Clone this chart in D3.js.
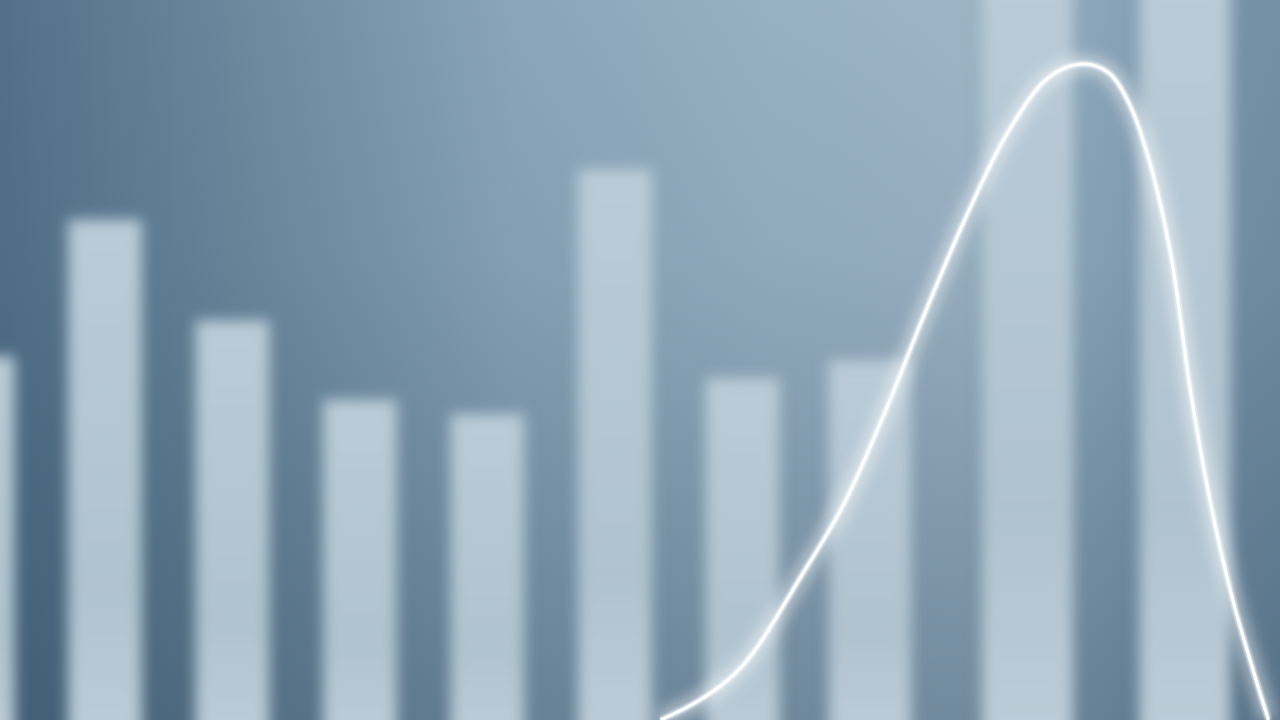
<!DOCTYPE html>
<html><head><meta charset="utf-8">
<script src="https://cdn.jsdelivr.net/npm/d3@7"></script>
<style>html,body{margin:0;padding:0;overflow:hidden;background:#7f9bb0}svg{display:block}</style>
</head><body>
<svg id="c" width="1280" height="720"></svg>
<script>
// Bar categories and heights (chart units, 0–100 spans the frame height)
const categories = ["A","B","C","D","E","F","G","H","I","J"];
const barValues  = [50.5, 69.5, 55.5, 44.5, 42.5, 76.5, 47.5, 50, 106, 106];
// Bell curve samples (x, y) in chart units
const curveX = [51.6, 54.7, 58.0, 62.7, 65.9, 69.1, 72.3, 75.5, 78.7, 81.9, 84.5, 86.6, 88.3, 89.8, 91.5, 93.0, 94.6, 96.25, 97.8, 99.1];
const curveY = [0, 2.8, 7.5, 20.3, 29.9, 42.6, 56.7, 70.0, 81.5, 89.2, 91.1, 89.9, 85.3, 77.6, 64.3, 45.8, 29.9, 17.1, 7.5, 0];

const W = 1280, H = 720;
const svg = d3.select("#c");
const defs = svg.append("defs");

const bg = defs.append("linearGradient").attr("id","bg").attr("x1",0).attr("x2",1).attr("y1",0).attr("y2",0);
[[0,"#52708a"],[0.18,"#6a879c"],[0.4,"#8aa5b8"],[0.6,"#97b0c2"],[0.75,"#9cb4c5"],[0.86,"#8aa4b8"],[0.96,"#7893a8"],[1,"#7390a5"]]
  .forEach(([o,c])=>bg.append("stop").attr("offset",o).attr("stop-color",c));
const shade = defs.append("linearGradient").attr("id","shade").attr("x1",0).attr("x2",0).attr("y1",0).attr("y2",1);
[[0,"#20384e",0],[0.35,"#20384e",0.06],[1,"#20384e",0.34]]
  .forEach(([o,c,a])=>shade.append("stop").attr("offset",o).attr("stop-color",c).attr("stop-opacity",a));
const barGrad = defs.append("linearGradient").attr("id","barg").attr("x1",0).attr("x2",0).attr("y1",0).attr("y2",1);
[[0,"#b9cbd7"],[0.7,"#afc3cf"],[1,"#bccdd8"]]
  .forEach(([o,c])=>barGrad.append("stop").attr("offset",o).attr("stop-color",c));

defs.append("filter").attr("id","blur").attr("x","-20%").attr("y","-20%").attr("width","140%").attr("height","140%")
  .append("feGaussianBlur").attr("stdDeviation",7);
defs.append("filter").attr("id","glow").attr("x","-20%").attr("y","-20%").attr("width","140%").attr("height","140%")
  .append("feGaussianBlur").attr("stdDeviation",7);
defs.append("filter").attr("id","soft").append("feGaussianBlur").attr("stdDeviation",1.2);

svg.append("rect").attr("width",W).attr("height",H).attr("fill","url(#bg)");
svg.append("rect").attr("width",W).attr("height",H).attr("fill","url(#shade)");

const y = d3.scaleLinear().domain([0,100]).range([H,0]);
const xIdx = d3.scaleLinear().domain([0,1,7,9]).range([-22,105,870,1185]);
const stepAt = i => (xIdx(i+0.5) - xIdx(i-0.5));
const xc = d3.scaleLinear().domain([0,100]).range([0,W]);

const bars = svg.append("g").attr("filter","url(#blur)");
bars.selectAll("rect").data(barValues).join("rect")
  .attr("x",(d,i)=>xIdx(i) - stepAt(i)*0.29)
  .attr("width",(d,i)=>stepAt(i)*0.58)
  .attr("y",d=>y(d))
  .attr("height",d=>H - y(d) + 30)
  .attr("fill","url(#barg)");

const pts = curveX.map((v,i)=>[xc(v), y(curveY[i])]);
const line = d3.line().curve(d3.curveCatmullRom.alpha(0.5));
svg.append("path").attr("d",line(pts)).attr("fill","none")
  .attr("stroke","#ffffff").attr("stroke-width",18).attr("stroke-opacity",0.45).attr("filter","url(#glow)");
svg.append("path").attr("d",line(pts)).attr("fill","none")
  .attr("stroke","#f4f9fc").attr("stroke-width",6).attr("stroke-opacity",0.7).attr("filter","url(#soft)");
svg.append("path").attr("d",line(pts)).attr("fill","none")
  .attr("stroke","#ffffff").attr("stroke-width",3);
</script>
</body></html>
